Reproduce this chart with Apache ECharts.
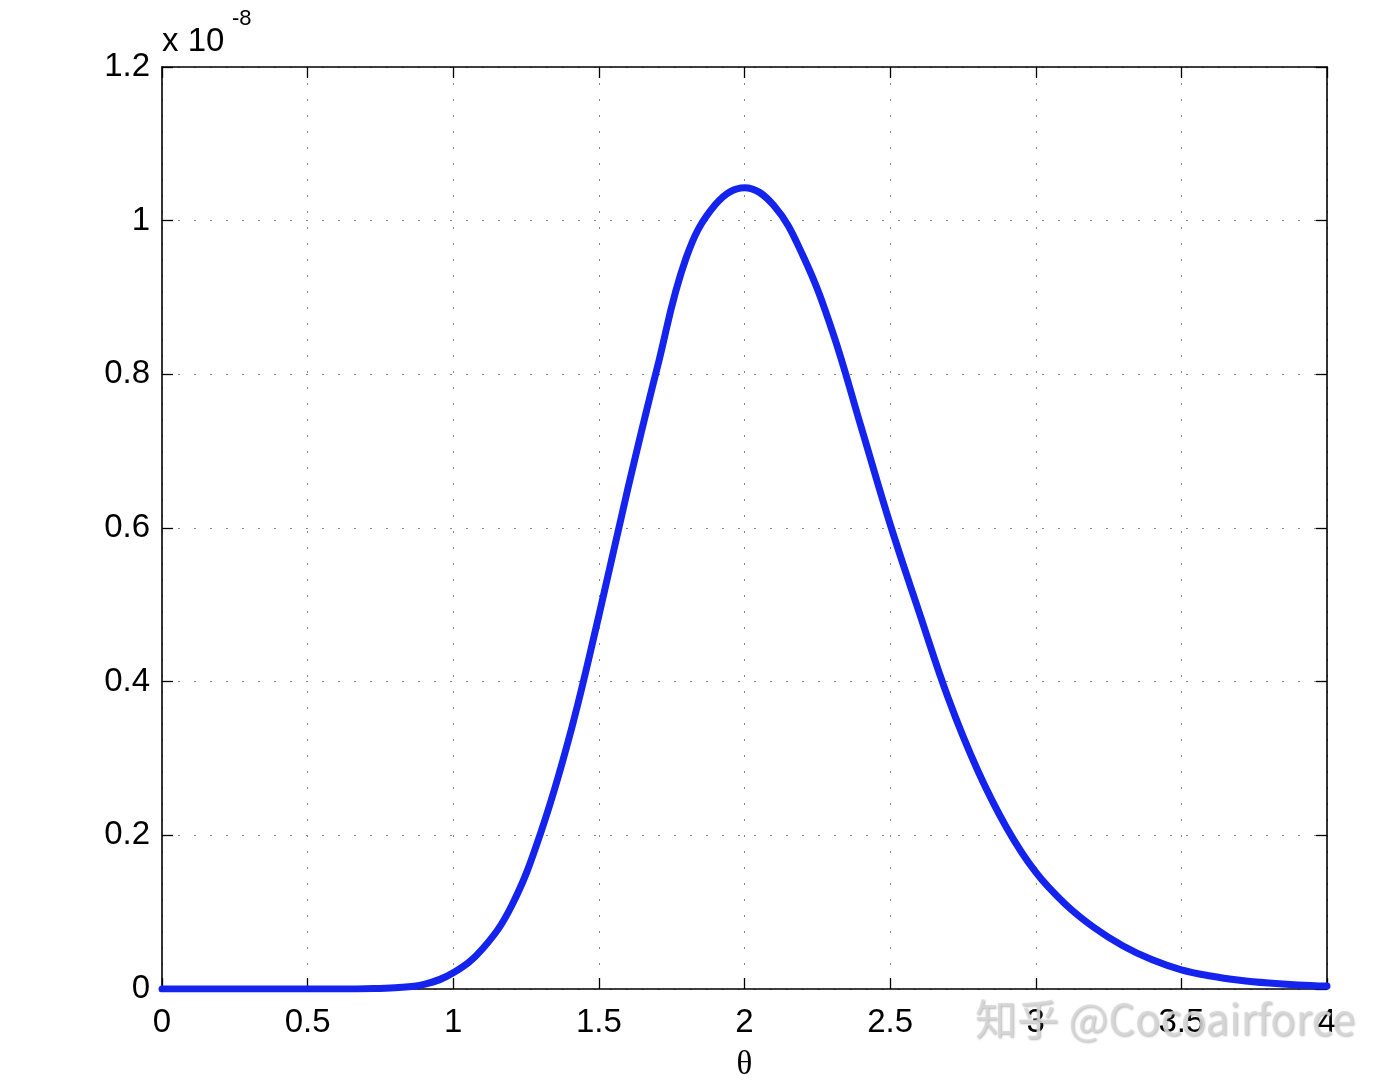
<!DOCTYPE html>
<html>
<head>
<meta charset="utf-8">
<script src="https://cdn.jsdelivr.net/npm/echarts@6/dist/echarts.min.js"></script>
<style>
html,body{margin:0;padding:0;background:#fff;}
#chart{width:1394px;height:1080px;}
</style>
</head>
<body>
<div id="chart"></div>
<script>
// theta values
var theta = [0,0.1,0.2,0.3,0.4,0.5,0.6,0.7,0.8,0.9,1.0,1.1,1.2,1.3,1.4,1.5,1.6,1.7,1.8,1.9,2.0,2.1,2.2,2.3,2.4,2.5,2.6,2.7,2.8,2.9,3.0,3.1,3.2,3.3,3.4,3.5,3.6,3.7,3.8,3.9,4.0];
// density values in units of 1e-8
var density = [0,0,0,0,0,0,0.0001,0.0004,0.0016,0.006,0.021,0.052,0.108,0.203,0.33,0.486,0.652,0.808,0.952,1.021,1.043,1.02,0.955,0.858,0.732,0.605,0.49,0.378,0.285,0.21,0.152,0.111,0.08,0.056,0.038,0.025,0.017,0.0115,0.0078,0.0053,0.0038];
var xTicks = {min:0, max:4, step:0.5};
var yTicks = {min:0, max:1.2, step:0.2};
var xLabel = 'θ';
var scaleBase = 'x 10';
var scaleExp = '-8';
var watermark = '知乎 @Cocoairforce';

var data = theta.map(function(t,i){return [t, density[i]];});
var chart = echarts.init(document.getElementById('chart'), null, {renderer:'canvas'});
var labelFont = {fontFamily:'Liberation Sans, Arial, sans-serif', fontSize:33, color:'#000'};
var gridLine = {show:true, lineStyle:{color:'#8a8a8a', width:1, type:[2,14]}};
var axisLine = {show:true, onZero:false, lineStyle:{color:'#000', width:1.6}};
var tick = {show:true, inside:true, length:11, lineStyle:{color:'#000', width:1.3}};
chart.setOption({
  animation:false,
  backgroundColor:'#fff',
  grid:{left:162, right:67, top:67, bottom:91, containLabel:false, outerBoundsMode:'none'},
  xAxis:[
    {type:'value', min:xTicks.min, max:xTicks.max, interval:xTicks.step, position:'bottom',
     axisLine:axisLine, axisTick:tick, splitLine:gridLine,
     axisLabel:Object.assign({margin:17}, labelFont),
     name:xLabel, nameLocation:'middle', nameGap:60,
     nameTextStyle:{fontFamily:'Liberation Serif, Times New Roman, serif', fontSize:33, color:'#000'}},
    {type:'value', min:xTicks.min, max:xTicks.max, interval:xTicks.step, position:'top',
     axisLine:axisLine, axisTick:tick, splitLine:{show:false}, axisLabel:{show:false}}
  ],
  yAxis:[
    {type:'value', min:yTicks.min, max:yTicks.max, interval:yTicks.step, position:'left',
     axisLine:axisLine, axisTick:tick, splitLine:gridLine,
     axisLabel:Object.assign({margin:12}, labelFont)},
    {type:'value', min:yTicks.min, max:yTicks.max, interval:yTicks.step, position:'right',
     axisLine:axisLine, axisTick:tick, splitLine:{show:false}, axisLabel:{show:false}}
  ],
  series:[{
    type:'line', data:data, xAxisIndex:0, yAxisIndex:0,
    smooth:0.4, showSymbol:false, symbol:'none',
    lineStyle:{color:'#1424ee', width:7, cap:'round', join:'round'}
  }],
  graphic:[
    {type:'text', left:162, top:25, style:{text:scaleBase, fontFamily:'Liberation Sans, Arial, sans-serif', fontSize:33, fill:'#000'}},
    {type:'text', left:232, top:8, style:{text:scaleExp, fontFamily:'Liberation Sans, Arial, sans-serif', fontSize:22, fill:'#000'}},
    {type:'text', left:975, top:998, z:100, style:{text:watermark, fontFamily:'Noto Sans CJK SC, Noto Sans, sans-serif', fontSize:42, fill:'rgba(215,215,215,0.85)', textShadowColor:'rgba(110,110,110,0.55)', textShadowBlur:2, textShadowOffsetX:1, textShadowOffsetY:1}}
  ]
});
</script>
</body>
</html>
